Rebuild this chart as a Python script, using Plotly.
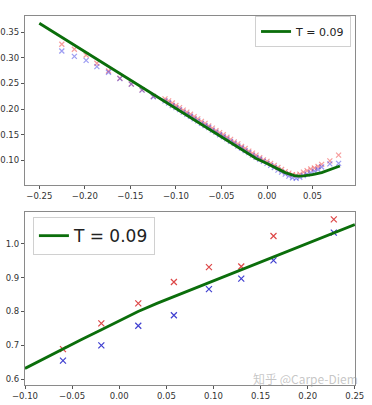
import plotly.graph_objects as go
from plotly.subplots import make_subplots

# ---------------- data: top panel ----------------
top_x = [-0.2253, -0.2115, -0.1986, -0.1868, -0.1740, -0.1615, -0.1490, -0.1372, -0.1248,
         -0.112, -0.108, -0.104, -0.100, -0.096, -0.092, -0.088, -0.084, -0.080, -0.076,
         -0.072, -0.068, -0.064, -0.060, -0.056, -0.052, -0.048, -0.044, -0.040, -0.036,
         -0.032, -0.028, -0.024, -0.020, -0.016, -0.012, -0.008, -0.004, 0.000, 0.004,
         0.008, 0.012, 0.016, 0.020, 0.024, 0.028, 0.032, 0.036, 0.040, 0.044, 0.048,
         0.052, 0.056, 0.060, 0.069, 0.0786]
top_red = [0.3266, 0.3168, 0.3057, 0.2895, 0.2744, 0.2602, 0.2490, 0.2375, 0.2250,
           0.220, 0.216, 0.212, 0.207, 0.203, 0.198, 0.194, 0.190, 0.185, 0.181,
           0.176, 0.172, 0.167, 0.163, 0.158, 0.154, 0.150, 0.145, 0.141, 0.136,
           0.132, 0.127, 0.123, 0.118, 0.114, 0.110, 0.105, 0.101, 0.098, 0.094,
           0.090, 0.086, 0.082, 0.078, 0.075, 0.072, 0.071, 0.073, 0.077, 0.080, 0.083,
           0.085, 0.088, 0.092, 0.099, 0.110]
top_blue = [0.3135, 0.3031, 0.2953, 0.2828, 0.2719, 0.2595, 0.2488, 0.2370, 0.2242,
            0.216, 0.212, 0.207, 0.203, 0.199, 0.194, 0.190, 0.186, 0.181, 0.177,
            0.172, 0.168, 0.164, 0.159, 0.155, 0.150, 0.146, 0.142, 0.137, 0.133,
            0.128, 0.124, 0.119, 0.115, 0.110, 0.106, 0.102, 0.098, 0.094, 0.090,
            0.086, 0.081, 0.077, 0.073, 0.069, 0.066, 0.065, 0.067, 0.070, 0.073, 0.076,
            0.079, 0.082, 0.087, 0.093, 0.094]
top_fit_x = [-0.25, -0.20, -0.15, -0.10, -0.05, -0.025, -0.012, 0.0, 0.01, 0.02,
             0.03, 0.035, 0.04, 0.05, 0.06, 0.07, 0.08]
top_fit_y = [0.3676, 0.312, 0.257, 0.201, 0.146, 0.118, 0.1035, 0.094, 0.085, 0.076,
             0.070, 0.069, 0.0695, 0.072, 0.076, 0.082, 0.089]

# ---------------- data: bottom panel ----------------
bot_x = [-0.0597, -0.019, 0.0202, 0.058, 0.0952, 0.1295, 0.1637, 0.2277]
bot_red = [0.689, 0.765, 0.824, 0.887, 0.931, 0.933, 1.023, 1.072]
bot_blue = [0.655, 0.700, 0.758, 0.789, 0.866, 0.897, 0.951, 1.033]
bot_fit_x = [-0.10, -0.08, -0.06, -0.04, -0.02, 0.00, 0.02, 0.04, 0.06, 0.08, 0.10,
             0.12, 0.14, 0.16, 0.18, 0.20, 0.22, 0.25]
bot_fit_y = [0.632, 0.661, 0.689, 0.717, 0.745, 0.773, 0.800, 0.824, 0.846, 0.869, 0.891,
             0.913, 0.935, 0.957, 0.979, 1.001, 1.024, 1.057]

legend_label = "T = 0.09"

top_xticks = [-0.25, -0.20, -0.15, -0.10, -0.05, 0.00, 0.05]
top_yticks = [0.10, 0.15, 0.20, 0.25, 0.30, 0.35]
bot_xticks = [-0.10, -0.05, 0.00, 0.05, 0.10, 0.15, 0.20, 0.25]
bot_yticks = [0.6, 0.7, 0.8, 0.9, 1.0]


def lab(v, nd):
    s = f"{abs(v):.{nd}f}"
    return ("\u2212" + s) if v < -1e-12 else s


GREEN = "#0b6e0b"

fig = make_subplots(rows=2, cols=1, vertical_spacing=0.07)

fig.add_trace(go.Scatter(x=top_x, y=top_red, mode="markers",
                         marker=dict(symbol="x-thin", size=5, line=dict(width=1.2, color="rgba(240,60,60,0.5)")),
                         showlegend=False), row=1, col=1)
fig.add_trace(go.Scatter(x=top_x, y=top_blue, mode="markers",
                         marker=dict(symbol="x-thin", size=5, line=dict(width=1.2, color="rgba(60,60,230,0.5)")),
                         showlegend=False), row=1, col=1)
fig.add_trace(go.Scatter(x=top_fit_x, y=top_fit_y, mode="lines", line=dict(color=GREEN, width=2.8),
                         name=legend_label, legend="legend"), row=1, col=1)

fig.add_trace(go.Scatter(x=bot_x, y=bot_red, mode="markers",
                         marker=dict(symbol="x-thin", size=6, line=dict(width=1.2, color="rgba(215,40,40,0.85)")),
                         showlegend=False), row=2, col=1)
fig.add_trace(go.Scatter(x=bot_x, y=bot_blue, mode="markers",
                         marker=dict(symbol="x-thin", size=6, line=dict(width=1.2, color="rgba(30,30,200,0.85)")),
                         showlegend=False), row=2, col=1)
fig.add_trace(go.Scatter(x=bot_fit_x, y=bot_fit_y, mode="lines", line=dict(color=GREEN, width=2.8),
                         name=legend_label, legend="legend2"), row=2, col=1)

axis_common = dict(showline=True, mirror=True, linecolor="#8a8a8a", linewidth=1.2,
                   ticks="outside", ticklen=3, tickcolor="#555", showgrid=False, zeroline=False,
                   tickfont=dict(family="DejaVu Sans", size=8.5, color="#333"))

fig.update_xaxes(range=[-0.2657, 0.0966], tickvals=top_xticks,
                 ticktext=[lab(v, 2) for v in top_xticks], row=1, col=1, **axis_common)
fig.update_yaxes(range=[0.0518, 0.3818], tickvals=top_yticks,
                 ticktext=[lab(v, 2) for v in top_yticks], row=1, col=1, **axis_common)
fig.update_xaxes(range=[-0.10, 0.2502], tickvals=bot_xticks,
                 ticktext=[lab(v, 2) for v in bot_xticks], row=2, col=1, **axis_common)
fig.update_yaxes(range=[0.583, 1.094], tickvals=bot_yticks,
                 ticktext=[lab(v, 1) for v in bot_yticks], row=2, col=1, **axis_common)

fig.update_layout(
    width=372, height=405,
    margin=dict(l=25, r=17, t=16, b=20, autoexpand=False),
    paper_bgcolor="white", plot_bgcolor="white",
    xaxis=dict(domain=[0, 1]), yaxis=dict(domain=[0.542, 1.0]),
    xaxis2=dict(domain=[0, 1]), yaxis2=dict(domain=[0.0, 0.469]),
    legend=dict(x=0.988, y=1.0, xanchor="right", yanchor="top",
                bgcolor="white", bordercolor="#d0d0d0", borderwidth=1,
                font=dict(family="DejaVu Sans", size=11, color="#222"), itemwidth=30),
    legend2=dict(x=0.024, y=0.455, xanchor="left", yanchor="top",
                 bgcolor="white", bordercolor="#d0d0d0", borderwidth=1,
                 font=dict(family="DejaVu Sans", size=17, color="#222"), itemwidth=30),
    annotations=[dict(text="知乎 @Carpe-Diem", xref="paper", yref="paper", x=0.85, y=0.018,
                      xanchor="center", yanchor="middle", showarrow=False,
                      font=dict(family="Noto Sans CJK SC", size=12, color="rgba(150,150,150,0.55)"))],
)

fig.write_html("out.html", config={"displayModeBar": False},
               post_script="document.body.style.margin='0';document.body.style.overflow='hidden';")
